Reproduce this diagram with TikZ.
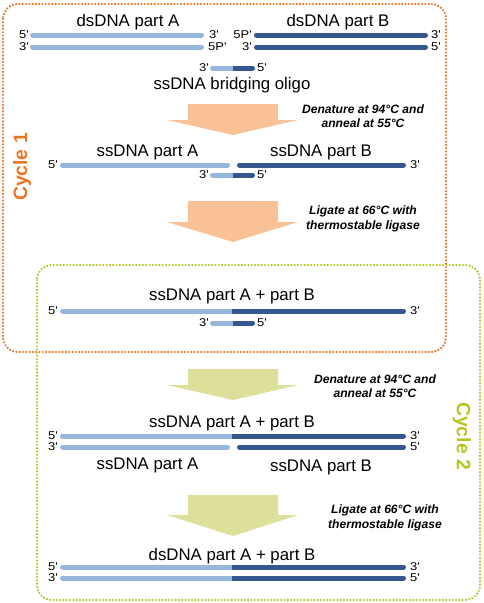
\documentclass[tikz,border=0pt]{standalone}
\usepackage{fontspec}
\setmainfont{Liberation Sans}
\newfontfamily\endfont[FakeStretch=1.15]{Liberation Sans}
\usepackage{tikz}
\usetikzlibrary{positioning}
\definecolor{partAblue}{RGB}{150,182,220}
\definecolor{partBblue}{RGB}{52,88,142}
\definecolor{cycA}{RGB}{236,117,36}
\definecolor{cycAfill}{RGB}{249,194,150}
\definecolor{cycB}{RGB}{184,196,37}
\definecolor{cycBfill}{RGB}{220,224,154}

\begin{document}
\begin{tikzpicture}[x=1pt,y=-1pt,
    strandA/.style={line width=5pt,line cap=round,partAblue},
    strandB/.style={line width=5pt,line cap=round,partBblue},
    joinB/.style={line width=5pt,line cap=butt,partBblue},
    cycbox/.style={line width=2.4pt,line cap=round,dash pattern=on 0pt off 3.3pt,rounded corners=15pt},
    title/.style={inner sep=0pt,anchor=base,font=\fontsize{16.8}{20}\selectfont},
    endlbl/.style={inner sep=0pt,font=\endfont\fontsize{11.3}{13}\selectfont},
    steplbl/.style={inner sep=0pt,align=center,font=\fontsize{12.1}{14.5}\selectfont\bfseries\itshape},
    cyclbl/.style={inner sep=0pt,font=\fontsize{19.4}{22}\selectfont\bfseries}]
    \useasboundingbox (0,0) rectangle (483,603);
    % cycle boxes
    \draw[cycbox,cycA] (3,4) rectangle (446,352);
    \draw[cycbox,cycB] (37,265) rectangle (480,600);
    \node[cyclbl,cycA,rotate=90] (cycle1) at (22,167) {Cycle 1};
    \node[cyclbl,cycB,rotate=-90] (cycle2) at (462,436) {Cycle 2};

    % dsDNA parts
    \node[title] (dsA) at (128,26) {dsDNA part A};
    \node[title] (dsB) at (338,26) {dsDNA part B};
    \draw[strandA] (32.5,35) -- (201.5,35);
    \draw[strandA] (32.5,47) -- (201.5,47);
    \draw[strandB] (256.5,35) -- (425.5,35);
    \draw[strandB] (256.5,47) -- (425.5,47);
    \node[endlbl,anchor=east] (dsAtl) at (29,35) {5'};
    \node[endlbl,anchor=east] (dsAbl) at (29,47) {3'};
    \node[endlbl,anchor=west] (dsAtr) at (209,35) {3'};
    \node[endlbl,anchor=west] (dsAbr) at (208,47) {5P'};
    \node[endlbl,anchor=east] (dsBtl) at (252,35) {5P'};
    \node[endlbl,anchor=east] (dsBbl) at (252,47) {3'};
    \node[endlbl,anchor=west] (dsBtr) at (431,35) {3'};
    \node[endlbl,anchor=west] (dsBbr) at (431,47) {5'};
    % bridging oligo
    \draw[strandA] (212.5,68) -- (233,68);
    \draw[joinB] (233,68) -- (236,68);
    \draw[strandB] (236,68) -- (252.5,68);
    \node[endlbl,anchor=east] (olA3) at (209,68) {3'};
    \node[endlbl,anchor=west] (olA5) at (257,68) {5'};
    \node[title] (oligo) at (232,89) {ssDNA bridging oligo};

    % step 1
    \fill[cycAfill] (188,104) -- (278,104) -- (278,120) -- (298,120) -- (233,135) -- (167,120) -- (188,120) -- cycle;
    \node[steplbl] (denat1) at (363,116) {Denature at 94°C and\\anneal at 55°C};

    % annealed
    \node[title] (ssA) at (147.5,156) {ssDNA part A};
    \node[title] (ssB) at (321,156) {ssDNA part B};
    \draw[strandA] (62.5,165) -- (227.5,165);
    \draw[strandB] (239.5,165) -- (403.5,165);
    \node[endlbl,anchor=east] (ssAl) at (58,165) {5'};
    \node[endlbl,anchor=west] (ssBr) at (410,165) {3'};
    \draw[strandA] (212.5,175) -- (233,175);
    \draw[joinB] (233,175) -- (236,175);
    \draw[strandB] (236,175) -- (252.5,175);
    \node[endlbl,anchor=east] (olB3) at (209,175) {3'};
    \node[endlbl,anchor=west] (olB5) at (257,175) {5'};

    % step 2
    \fill[cycAfill] (188,201) -- (278,201) -- (278,222) -- (298,222) -- (233,242) -- (167,222) -- (188,222) -- cycle;
    \node[steplbl] (ligate1) at (363,219) {Ligate at 66°C with\\thermostable ligase};

    % ligated single strand
    \node[title] (ssAB) at (232,300) {ssDNA part A + part B};
    \draw[strandA] (62.5,311) -- (232,311);
    \draw[joinB] (232,311) -- (236,311);
    \draw[strandB] (236,311) -- (403.5,311);
    \node[endlbl,anchor=east] (ssABl) at (58,311) {5'};
    \node[endlbl,anchor=west] (ssABr) at (410,311) {3'};
    \draw[strandA] (212.5,323) -- (233,323);
    \draw[joinB] (233,323) -- (236,323);
    \draw[strandB] (236,323) -- (252.5,323);
    \node[endlbl,anchor=east] (olC3) at (209,323) {3'};
    \node[endlbl,anchor=west] (olC5) at (257,323) {5'};

    % step 3
    \fill[cycBfill] (188,369) -- (278,369) -- (278,385) -- (298,385) -- (233,400) -- (167,385) -- (188,385) -- cycle;
    \node[steplbl] (denat2) at (375,386) {Denature at 94°C and\\anneal at 55°C};

    % template annealed
    \node[title] (ssAB2) at (232,427) {ssDNA part A + part B};
    \draw[strandA] (62.5,436) -- (232,436);
    \draw[joinB] (232,436) -- (236,436);
    \draw[strandB] (236,436) -- (403.5,436);
    \draw[strandA] (62.5,447) -- (227.5,447);
    \draw[strandB] (239.5,447) -- (403.5,447);
    \node[endlbl,anchor=east] (tmpltl) at (58,436) {5'};
    \node[endlbl,anchor=east] (tmplbl) at (58,447) {3'};
    \node[endlbl,anchor=west] (tmpltr) at (410,436) {3'};
    \node[endlbl,anchor=west] (tmplbr) at (410,447) {5'};
    \node[title] (ssA2) at (147.5,469) {ssDNA part A};
    \node[title] (ssB2) at (321,471) {ssDNA part B};

    % step 4
    \fill[cycBfill] (188,495) -- (278,495) -- (278,515) -- (298,515) -- (233,536) -- (167,515) -- (188,515) -- cycle;
    \node[steplbl] (ligate2) at (385,518) {Ligate at 66°C with\\thermostable ligase};

    % final product
    \node[title] (dsAB) at (232,560) {dsDNA part A + part B};
    \draw[strandA] (62.5,567) -- (232,567);
    \draw[joinB] (232,567) -- (236,567);
    \draw[strandB] (236,567) -- (403.5,567);
    \draw[strandA] (62.5,578) -- (232,578);
    \draw[joinB] (232,578) -- (236,578);
    \draw[strandB] (236,578) -- (403.5,578);
    \node[endlbl,anchor=east] (dsABtl) at (58,567) {5'};
    \node[endlbl,anchor=east] (dsABbl) at (58,578) {3'};
    \node[endlbl,anchor=west] (dsABtr) at (410,567) {3'};
    \node[endlbl,anchor=west] (dsABbr) at (410,578) {5'};
\end{tikzpicture}
\end{document}
